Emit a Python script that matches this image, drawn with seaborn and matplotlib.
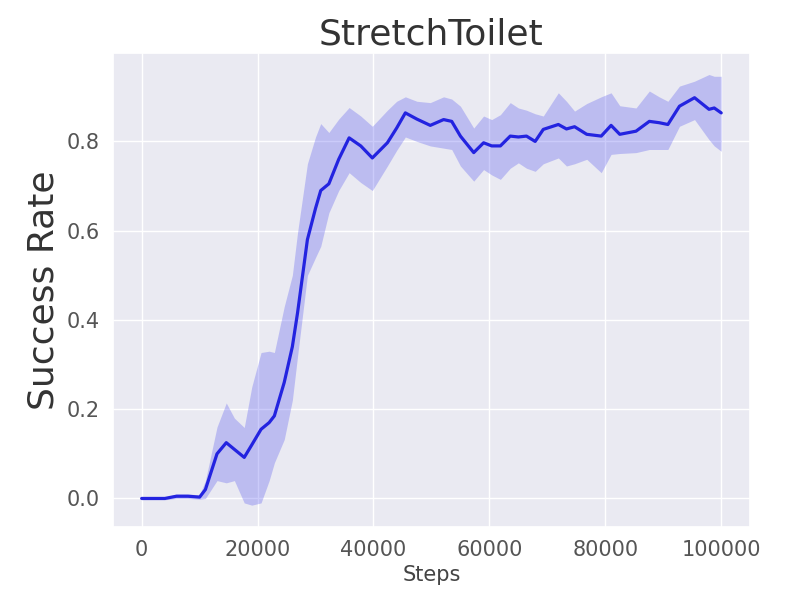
import numpy as np
import pandas as pd
import seaborn as sns
import matplotlib
matplotlib.use("Agg")
import matplotlib.pyplot as plt

# values (steps in thousands)
steps_k = [0, 2, 4, 6, 8, 10, 11, 12, 13, 14.6, 16, 17.7, 19, 20.6, 22, 22.9, 24.6, 26, 26.9, 28.6,
           30, 30.9, 32.3, 34, 35.8, 37.8, 39.8, 42.4, 44, 45.5, 47.5, 49.8, 52.1, 53.5, 55, 57.3,
           59, 60.4, 61.9, 63.6, 65, 66.4, 67.9, 69.3, 71.9, 73.3, 74.7, 76.8, 79.3, 81, 82.5,
           85.3, 87.6, 89.3, 90.8, 92.8, 95.4, 97.9, 98.8, 100]
mean_rate = [0, 0, 0, 0.005, 0.005, 0.003, 0.02, 0.06, 0.1, 0.125, 0.11, 0.092, 0.12, 0.155, 0.17,
             0.185, 0.26, 0.34, 0.416, 0.58, 0.65, 0.69, 0.705, 0.76, 0.808, 0.79, 0.763, 0.797,
             0.83, 0.864, 0.85, 0.836, 0.849, 0.845, 0.812, 0.775, 0.797, 0.79, 0.79, 0.812, 0.81,
             0.812, 0.80, 0.827, 0.838, 0.828, 0.833, 0.816, 0.812, 0.836, 0.816, 0.823, 0.845,
             0.842, 0.838, 0.879, 0.898, 0.872, 0.875, 0.864]
upper_rate = [0.003, 0.003, 0.003, 0.01, 0.01, 0.008, 0.04, 0.1, 0.16, 0.214, 0.18, 0.159, 0.25,
              0.327, 0.33, 0.327, 0.43, 0.5, 0.596, 0.75, 0.81, 0.84, 0.82, 0.85, 0.876, 0.857,
              0.834, 0.87, 0.89, 0.90, 0.89, 0.887, 0.90, 0.895, 0.879, 0.83, 0.857, 0.849, 0.86,
              0.887, 0.875, 0.87, 0.862, 0.857, 0.909, 0.89, 0.868, 0.885, 0.90, 0.909, 0.88,
              0.875, 0.913, 0.90, 0.89, 0.924, 0.935, 0.95, 0.946, 0.946]
lower_rate = [-0.003, -0.003, -0.003, 0.0, 0.0, -0.002, 0.0, 0.02, 0.04, 0.035, 0.04, -0.01, -0.015,
              -0.01, 0.04, 0.08, 0.132, 0.22, 0.319, 0.5, 0.54, 0.565, 0.64, 0.69, 0.73, 0.708,
              0.69, 0.745, 0.78, 0.81, 0.80, 0.79, 0.785, 0.782, 0.745, 0.711, 0.737, 0.725,
              0.715, 0.74, 0.752, 0.74, 0.733, 0.75, 0.763, 0.745, 0.75, 0.76, 0.73, 0.771,
              0.773, 0.775, 0.782, 0.782, 0.782, 0.834, 0.849, 0.804, 0.79, 0.778]

df = pd.DataFrame({
    "Steps": np.array(steps_k) * 1000,
    "mean": mean_rate,
    "lower": lower_rate,
    "upper": upper_rate,
})

sns.set_theme(style="darkgrid")

fig = plt.figure(figsize=(7.88, 6.16), dpi=100)
ax = fig.add_axes([0.143, 0.145, 0.809, 0.769])

sns.lineplot(data=df, x="Steps", y="mean", color="#2323e0", linewidth=2.3, ax=ax)
ax.fill_between(df["Steps"], df["lower"], df["upper"], color="#3333ee", alpha=0.25, linewidth=0)

ax.set_title("StretchToilet", fontsize=26, color="#333333")
ax.set_ylabel("Success Rate", fontsize=26, color="#333333")
ax.set_xlabel("Steps", fontsize=15, color="#444444")
ax.tick_params(labelsize=15, labelcolor="#555555")

fig.savefig("out.png", dpi=100)
